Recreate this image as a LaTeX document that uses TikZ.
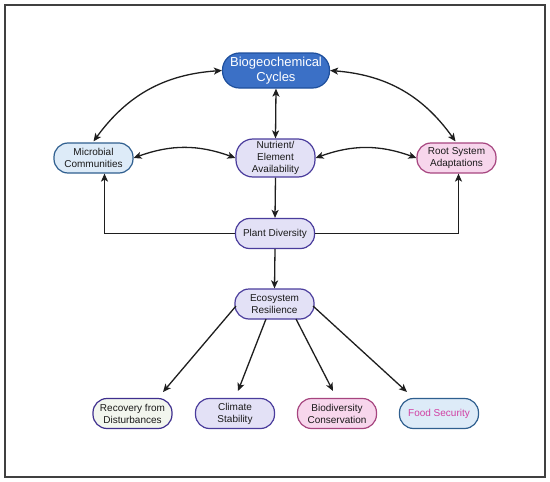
\documentclass[tikz,border=0pt]{standalone}
\usepackage{fontspec}
\setmainfont{Liberation Sans}
\usetikzlibrary{arrows.meta,calc}
\definecolor{bluefill}{HTML}{3B70C6}
\definecolor{blueline}{HTML}{1E4F9C}
\definecolor{lbfill}{HTML}{DDEBF8}
\definecolor{lbline}{HTML}{2F5F8F}
\definecolor{lavfill}{HTML}{E3E1F6}
\definecolor{lavline}{HTML}{4A3C9C}
\definecolor{pinkfill}{HTML}{F7D6EC}
\definecolor{pinkline}{HTML}{A6457F}
\definecolor{recfill}{HTML}{F2F6EE}
\definecolor{recline}{HTML}{3F2F8E}
\definecolor{foodtxt}{HTML}{D13FA2}
\definecolor{txt}{HTML}{1A1A1A}
\definecolor{arrcol}{HTML}{1E1E1E}
\definecolor{framecol}{HTML}{404040}
\begin{document}
\begin{tikzpicture}[x=1pt,y=-1pt,
  box/.style={draw, rounded corners=14pt, minimum width=79pt, minimum height=30pt,
    align=center, font=\fontsize{10}{12}\selectfont, line width=1.2pt, text=txt, inner sep=1pt},
  bluebox/.style={box, fill=bluefill, draw=blueline, text=white, minimum width=107pt,
    minimum height=35pt, rounded corners=17pt, font=\fontsize{13}{15}\selectfont},
  lbbox/.style={box, fill=lbfill, draw=lbline},
  lavbox/.style={box, fill=lavfill, draw=lavline},
  pinkbox/.style={box, fill=pinkfill, draw=pinkline},
  recbox/.style={box, fill=recfill, draw=recline},
  arr/.style={draw=arrcol, line width=1.3pt, -{Stealth[length=8pt,width=7pt,inset=2pt]}},
  darr/.style={draw=arrcol, line width=1.3pt, {Stealth[length=8pt,width=7pt,inset=2pt]}-{Stealth[length=8pt,width=7pt,inset=2pt]}}
]
\useasboundingbox (0,0) rectangle (550,482);
\draw[framecol, line width=1.8pt] (5,5) rectangle (545,477);

\node[bluebox] (bio) at (276,70.5) {Biogeochemical\\Cycles};
\node[lbbox] (mic) at (93.5,158) {Microbial\\Communities};
\node[lavbox, minimum height=38pt, rounded corners=17pt] (nut) at (275.5,158) {Nutrient/\\Element\\Availability};
\node[pinkbox] (root) at (456.5,158) {Root System\\Adaptations};
\node[lavbox] (pd) at (275,233.5) {Plant Diversity};
\node[lavbox] (eco) at (274.5,304) {Ecosystem\\Resilience};
\node[recbox] (rec) at (132.5,413.5) {Recovery from\\Disturbances};
\node[lavbox] (cli) at (235,413.5) {Climate\\Stability};
\node[pinkbox] (bdc) at (337,413.5) {Biodiversity\\Conservation};
\node[lbbox, text=foodtxt] (food) at (439,413.5) {Food Security};

\draw[darr] (bio.west) to[bend right=25] ($(mic.north)+(0,-1)$);
\draw[darr] (bio.east) to[bend left=25] ($(root.north)+(-1,-1)$);
\draw[darr] (bio.south) -- (nut.north);
\draw[darr] (mic.east) to[bend left=20] (nut.west);
\draw[darr] (nut.east) to[bend left=20] (root.west);
\draw[arr] (nut.south) -- (pd.north);
\draw[arr] (pd.west) -| ($(mic.south)+(11,0)$);
\draw[arr] (pd.east) -| ($(root.south)+(2,0)$);
\draw[arr] (pd.south) -- (eco.north);

\coordinate (s1) at (236,306);
\coordinate (s2) at (266,319);
\coordinate (s3) at (296,319);
\coordinate (s4) at (313,306);
\coordinate (e1) at (163,392);
\coordinate (e2) at (238,391);
\coordinate (e3) at (333,391);
\coordinate (e4) at (407,392);
\draw[arr] (s1) -- (e1);
\draw[arr] (s2) -- (e2);
\draw[arr] (s3) -- (e3);
\draw[arr] (s4) -- (e4);
\end{tikzpicture}
\end{document}
